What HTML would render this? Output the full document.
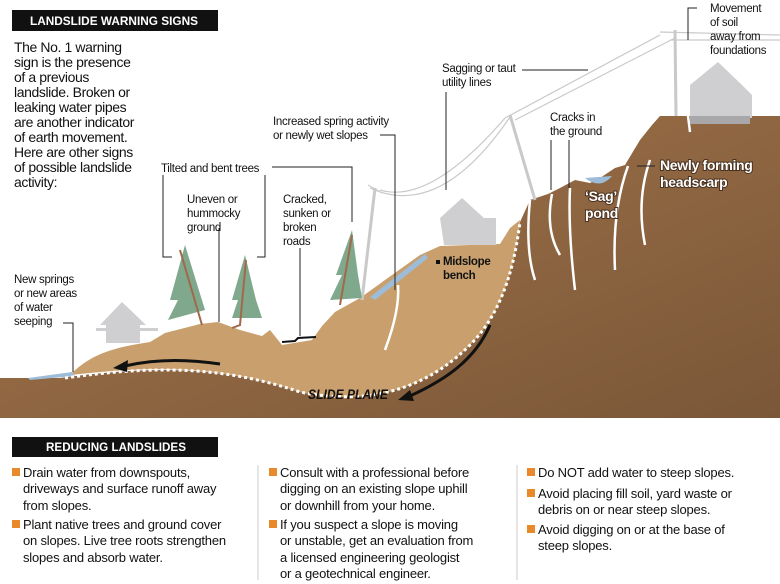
<!DOCTYPE html>
<html><head><style>
body{margin:0;width:780px;height:584px;background:#fff;overflow:hidden;font-family:"Liberation Sans",sans-serif}
.b{position:absolute;font-size:13px;line-height:16.3px;color:#111;white-space:nowrap;letter-spacing:-0.2px}
.b span{position:absolute;left:-11px;top:3px;width:8px;height:8px;background:#e8892b}
</style></head><body>
<svg width="780" height="584" style="position:absolute;left:0;top:0" font-family="Liberation Sans, sans-serif">
<defs>
<linearGradient id="dk" x1="0" y1="0" x2="1" y2="1"><stop offset="0" stop-color="#a4754b"/><stop offset="1" stop-color="#7a5738"/></linearGradient>
</defs>
<path d="M0,378 L60,378 C150,366 220,365 300,392 C360,404 420,395 470,345 C505,310 515,260 520,222 L530,200 L548,194 L560,188 L575,180 L590,183 L600,178 L615,168 L625,165 L640,140 L652,125 L660,116 L780,116 L780,418 L0,418 Z" fill="url(#dk)"/>
<path d="M70,375 C90,355 110,348 150,342 L165,333 L200,324 L218,322 L240,330 L262,336 L270,330 L282,345 L312,340 L322,326 L335,312 L360,298 L392,275 L420,255 L440,246 L500,244 L510,228 L520,220 C515,262 505,310 470,345 C420,395 360,404 300,392 C220,365 150,366 70,375 Z" fill="#c9a06d"/>
<path d="M28,378 L72,372 L75,376 L30,380 Z" fill="#9cbcd8"/>
<path d="M370,297 L425,254 L428,258 L375,300 Z" fill="#9cbcd8"/>
<path d="M585,178 Q600,190 612,176 Z" fill="#9cbcd8"/>
<g stroke="#fff" stroke-width="2.5" fill="none">
<path d="M530,200 Q525,250 535,280"/><path d="M552,194 Q545,230 560,255"/><path d="M570,188 Q568,230 575,290"/><path d="M628,166 Q612,210 615,270"/><path d="M650,160 Q636,200 645,245"/><path d="M688,116 L690,132"/><path d="M398,285 Q400,310 385,350"/>
</g>
<path d="M65,378 C150,366 220,365 300,392 C360,404 420,395 470,345 C505,310 515,260 520,222" stroke="#fff" stroke-width="3" stroke-dasharray="3,3" fill="none"/>
<path d="M220,364 C180,358 150,360 125,366" stroke="#111" stroke-width="3" fill="none"/><path d="M113,368 L128,360 L127,372 Z" fill="#111"/>
<path d="M490,325 C475,360 445,380 410,396" stroke="#111" stroke-width="3" fill="none"/><path d="M398,400 L410,390 L414,401 Z" fill="#111"/>
<text x="308" y="399" font-size="13.5" font-weight="bold" font-style="italic" fill="#111" textLength="80" lengthAdjust="spacingAndGlyphs">SLIDE PLANE</text>
<g fill="#cfcfd1"><path d="M100,325 L122,302 L146,325 L140,325 L140,343 L106,343 L106,325 Z"/><rect x="96" y="328" width="62" height="3"/>
<path d="M440,218 L462,198 L484,218 L496,218 L496,245 L444,245 Z"/>
<path d="M690,85 L718,62 L742,85 L752,95 L752,118 L690,118 Z"/></g>
<rect x="690" y="116" width="60" height="8" fill="#a8a8aa"/>
<g stroke="#c9c9c9" fill="none" stroke-width="1.2">
<path d="M375,188 L362,300" stroke-width="3"/><path d="M510,115 L535,200" stroke-width="3"/><path d="M675,30 L676,116" stroke-width="3"/>
<path d="M380,190 Q430,205 505,118 M370,188 Q440,220 510,117 M505,118 L660,35 M515,120 L675,38 M660,32 L780,35 M670,40 L780,40 M368,185 L382,193"/>
</g>
<g fill="#7fa88c">
<path d="M185,245 L170,300 L178,300 L168,320 L205,310 Z"/><path d="M245,255 L232,300 L238,300 L232,318 L262,318 L256,300 Z"/><path d="M352,230 L336,275 L342,275 L330,300 L362,298 L358,275 Z"/></g>
<g stroke="#a06a4a" stroke-width="2" fill="none"><path d="M180,250 L202,325"/><path d="M246,260 L240,325 L232,328"/><path d="M352,235 L340,305"/></g>
<path d="M282,342 L295,341 L298,338 L316,337" stroke="#111" stroke-width="2" fill="none"/>
<g stroke="#222" stroke-width="1" fill="none">
<path d="M272,167 L352,167 L352,222"/><path d="M163,175 L163,257 L172,257"/><path d="M265,175 L265,257 L257,257"/><path d="M219,228 L219,322"/><path d="M300,248 L300,336"/>
<path d="M380,135 L395,135 L395,290"/><path d="M63,323 L73,323 L73,372"/><path d="M446,92 L446,190 M522,70 L588,70"/>
<path d="M551,140 L551,190 M569,140 L569,188"/><path d="M637,166 L655,166"/><path d="M688,40 L688,8 L697,8"/>
</g>
<rect x="436" y="260" width="4" height="4" fill="#111"/>
<g font-size="11.5" fill="#111" letter-spacing="-0.3">
<text x="442" y="72">Sagging or taut</text><text x="442" y="86">utility lines</text>
<text x="273" y="125">Increased spring activity</text><text x="273" y="139">or newly wet slopes</text>
<text x="161" y="172">Tilted and bent trees</text>
<text x="187" y="203">Uneven or</text><text x="187" y="217">hummocky</text><text x="187" y="231">ground</text>
<text x="283" y="203">Cracked,</text><text x="283" y="217">sunken or</text><text x="283" y="231">broken</text><text x="283" y="245">roads</text>
<text x="14" y="283">New springs</text><text x="14" y="297">or new areas</text><text x="14" y="311">of water</text><text x="14" y="325">seeping</text>
<text x="550" y="121">Cracks in</text><text x="550" y="135">the ground</text>
<text x="710" y="12">Movement</text><text x="710" y="26">of soil</text><text x="710" y="40">away from</text><text x="710" y="54">foundations</text>
<text x="443" y="265" font-weight="bold">Midslope</text><text x="443" y="279" font-weight="bold">bench</text>
</g>
<g font-size="14" font-weight="bold" fill="#fff" stroke="#4a3220" stroke-width="2" paint-order="stroke" letter-spacing="-0.3">
<text x="660" y="170">Newly forming</text><text x="660" y="187">headscarp</text>
<text x="585" y="201">‘Sag’</text><text x="585" y="218">pond</text></g>
<rect x="12" y="10" width="206" height="21" fill="#111"/>
<text x="30" y="25" font-size="11.5" font-weight="bold" fill="#fff" textLength="168" lengthAdjust="spacingAndGlyphs">LANDSLIDE WARNING SIGNS</text>
<g font-size="14" fill="#111" letter-spacing="-0.4">
<text x="14" y="52">The No. 1 warning</text><text x="14" y="67">sign is the presence</text><text x="14" y="82">of a previous</text><text x="14" y="97">landslide. Broken or</text><text x="14" y="112">leaking water pipes</text><text x="14" y="127">are another indicator</text><text x="14" y="142">of earth movement.</text><text x="14" y="157">Here are other signs</text><text x="14" y="172">of possible landslide</text><text x="14" y="187">activity:</text></g>
<rect x="12" y="437" width="206" height="20" fill="#111"/>
<text x="46" y="451" font-size="11.5" font-weight="bold" fill="#fff" textLength="140" lengthAdjust="spacingAndGlyphs">REDUCING LANDSLIDES</text>
<line x1="258" y1="465" x2="258" y2="580" stroke="#ccc"/><line x1="517" y1="465" x2="517" y2="580" stroke="#ccc"/>
</svg>
<div class="b" style="left:23px;top:465px"><span></span>Drain water from downspouts,<br>driveways and surface runoff away<br>from slopes.</div>
<div class="b" style="left:23px;top:517px"><span></span>Plant native trees and ground cover<br>on slopes. Live tree roots strengthen<br>slopes and absorb water.</div>
<div class="b" style="left:280px;top:465px"><span></span>Consult with a professional before<br>digging on an existing slope uphill<br>or downhill from your home.</div>
<div class="b" style="left:280px;top:517px"><span></span>If you suspect a slope is moving<br>or unstable, get an evaluation from<br>a licensed engineering geologist<br>or a geotechnical engineer.</div>
<div class="b" style="left:538px;top:465px"><span></span>Do NOT add water to steep slopes.</div>
<div class="b" style="left:538px;top:486px"><span></span>Avoid placing fill soil, yard waste or<br>debris on or near steep slopes.</div>
<div class="b" style="left:538px;top:522px"><span></span>Avoid digging on or at the base of<br>steep slopes.</div>
</body></html>
